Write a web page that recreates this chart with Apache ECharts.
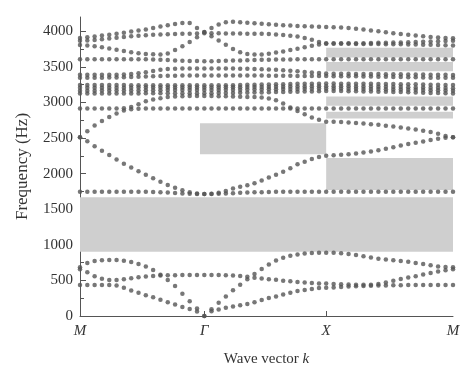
<!DOCTYPE html>
<html><head><meta charset="utf-8">
<script src="https://cdn.jsdelivr.net/npm/echarts@6/dist/echarts.min.js"></script>
<style>html,body{margin:0;padding:0;background:#fff}#c{width:474px;height:382px}</style>
</head><body><div id="c"></div>
<script>
// k-path: M -> Gamma -> X -> M
const kLabels = ['M', 'Γ', 'X', 'M'];
const kPositions = [0, 1, 1.98, 3];
const stepsPerSegment = 17;
const yTickValues = [0, 500, 1000, 1500, 2000, 2500, 3000, 3500, 4000];
const yMinorTickValues = [250, 750, 1250, 1750, 2250, 2750, 3250, 3750];

// Frequencies (Hz) of each band, 18 values M-Γ, 17 Γ-X, 17 X-M
const bandT1 = [3905, 3915, 3925, 3940, 3952, 3965, 3980, 3995, 4010, 4025, 4045, 4065, 4085, 4100, 4115, 4115, 4045, 3990,
  4045, 4095, 4125, 4132, 4128, 4120, 4112, 4104, 4097, 4090, 4085, 4080, 4075, 4070, 4067, 4064, 4060,
  4057, 4053, 4045, 4035, 4025, 4012, 4000, 3985, 3972, 3960, 3950, 3940, 3930, 3920, 3912, 3905, 3900];
const bandT2 = [3865, 3870, 3878, 3888, 3898, 3908, 3918, 3928, 3936, 3943, 3950, 3955, 3959, 3962, 3964, 3966, 3968, 3970,
  3970, 3970, 3969, 3968, 3967, 3966, 3965, 3963, 3960, 3955, 3948, 3938, 3925, 3905, 3880, 3850, 3830,
  3830, 3830, 3831, 3832, 3833, 3835, 3837, 3839, 3841, 3843, 3846, 3849, 3852, 3855, 3858, 3862, 3865];
const bandT3 = [3805, 3800, 3790, 3775, 3758, 3740, 3722, 3705, 3692, 3682, 3677, 3673, 3686, 3735, 3790, 3850, 3915, 3985,
  3930, 3870, 3810, 3750, 3705, 3680, 3672, 3675, 3685, 3700, 3715, 3735, 3755, 3775, 3795, 3812, 3825,
  3825, 3824, 3823, 3822, 3821, 3820, 3819, 3818, 3817, 3816, 3815, 3813, 3811, 3809, 3806, 3803, 3800];
const band3600 = [3605, 3605, 3605, 3605, 3605, 3605, 3605, 3605, 3605, 3605, 3604, 3600, 3595, 3590, 3586, 3583, 3581, 3580,
  3580, 3582, 3585, 3588, 3590, 3593, 3596, 3598, 3600, 3602, 3603, 3604, 3605, 3605, 3605, 3605, 3605,
  3605, 3605, 3605, 3605, 3605, 3605, 3605, 3605, 3605, 3605, 3605, 3605, 3605, 3605, 3605, 3605, 3605];
const bandC1 = [3390, 3390, 3390, 3390, 3390, 3390, 3392, 3398, 3410, 3425, 3442, 3458, 3468, 3474, 3477, 3478, 3478, 3478,
  3478, 3477, 3476, 3475, 3474, 3472, 3470, 3467, 3463, 3458, 3452, 3445, 3437, 3428, 3420, 3412, 3405,
  3404, 3403, 3402, 3401, 3400, 3399, 3398, 3397, 3396, 3395, 3394, 3393, 3392, 3390, 3389, 3388, 3387];
const bandC2 = [3345, 3345, 3346, 3347, 3349, 3351, 3354, 3357, 3360, 3364, 3368, 3371, 3374, 3376, 3378, 3379, 3380, 3380,
  3380, 3380, 3380, 3379, 3379, 3378, 3378, 3377, 3376, 3375, 3374, 3373, 3372, 3371, 3370, 3370, 3370,
  3369, 3368, 3367, 3366, 3365, 3364, 3362, 3360, 3358, 3356, 3354, 3352, 3350, 3348, 3347, 3346, 3345];
const bandC3 = [3245, 3245, 3245, 3245, 3245, 3244, 3244, 3243, 3243, 3242, 3242, 3241, 3241, 3240, 3240, 3240, 3240, 3240,
  3240, 3241, 3242, 3243, 3245, 3247, 3249, 3251, 3253, 3255, 3257, 3259, 3261, 3262, 3263, 3264, 3265,
  3265, 3264, 3264, 3263, 3262, 3261, 3260, 3259, 3258, 3257, 3256, 3254, 3252, 3250, 3248, 3246, 3245];
const bandC4 = [3205, 3205, 3205, 3205, 3206, 3206, 3207, 3207, 3208, 3208, 3209, 3209, 3210, 3210, 3210, 3210, 3210, 3210,
  3210, 3211, 3212, 3213, 3214, 3215, 3216, 3217, 3218, 3219, 3220, 3222, 3223, 3224, 3226, 3227, 3228,
  3228, 3227, 3226, 3225, 3224, 3222, 3221, 3219, 3217, 3215, 3213, 3211, 3209, 3207, 3205, 3203, 3200];
const bandC5 = [3165, 3165, 3165, 3166, 3166, 3167, 3167, 3168, 3169, 3170, 3171, 3172, 3173, 3174, 3174, 3175, 3175, 3175,
  3175, 3176, 3177, 3178, 3179, 3180, 3181, 3182, 3184, 3185, 3187, 3188, 3190, 3191, 3193, 3194, 3195,
  3195, 3194, 3193, 3192, 3190, 3189, 3187, 3185, 3183, 3181, 3179, 3177, 3175, 3172, 3170, 3167, 3165];
const bandC6 = [3125, 3125, 3125, 3125, 3126, 3126, 3126, 3127, 3127, 3128, 3128, 3129, 3129, 3130, 3130, 3130, 3130, 3130,
  3130, 3131, 3132, 3133, 3135, 3137, 3139, 3141, 3143, 3145, 3147, 3149, 3151, 3153, 3155, 3158, 3160,
  3160, 3159, 3158, 3157, 3155, 3153, 3151, 3149, 3147, 3145, 3142, 3140, 3137, 3134, 3131, 3128, 3125];
const bandB7 = [2915, 2915, 2915, 2915, 2915, 2915, 2918, 2935, 2975, 3015, 3040, 3060, 3075, 3083, 3088, 3090, 3090, 3090,
  3090, 3088, 3086, 3083, 3080, 3078, 3075, 3070, 3055, 3030, 2985, 2930, 2880, 2835, 2790, 2755, 2730,
  2728, 2724, 2718, 2711, 2703, 2695, 2685, 2673, 2662, 2648, 2635, 2620, 2603, 2585, 2560, 2530, 2512];
const bandB6 = [2510, 2595, 2675, 2740, 2795, 2845, 2885, 2905, 2912, 2915, 2915, 2915, 2915, 2915, 2915, 2915, 2915, 2915,
  2915, 2915, 2915, 2915, 2915, 2915, 2915, 2915, 2915, 2915, 2915, 2915, 2915, 2915, 2915, 2915, 2915,
  2915, 2915, 2915, 2915, 2915, 2915, 2915, 2915, 2915, 2915, 2915, 2915, 2915, 2915, 2915, 2915, 2915];
const bandB5 = [2510, 2455, 2385, 2320, 2260, 2200, 2140, 2085, 2035, 1985, 1935, 1885, 1840, 1800, 1765, 1738, 1722, 1715,
  1718, 1730, 1755, 1790, 1815, 1835, 1865, 1905, 1945, 1985, 2025, 2075, 2130, 2168, 2205, 2232, 2250,
  2258, 2265, 2272, 2282, 2295, 2310, 2330, 2350, 2372, 2395, 2415, 2432, 2450, 2472, 2490, 2505, 2510];
const bandB4 = [1745, 1745, 1745, 1745, 1745, 1745, 1745, 1745, 1745, 1745, 1743, 1740, 1735, 1728, 1722, 1718, 1715, 1713,
  1714, 1716, 1720, 1725, 1730, 1735, 1738, 1740, 1742, 1744, 1745, 1745, 1745, 1745, 1745, 1745, 1745,
  1745, 1745, 1745, 1745, 1745, 1745, 1745, 1745, 1745, 1745, 1745, 1745, 1745, 1745, 1745, 1745, 1745];
const bandB3 = [685, 745, 772, 783, 786, 786, 775, 760, 732, 695, 645, 580, 505, 420, 312, 208, 104, 0,
  95, 185, 275, 360, 440, 515, 590, 660, 725, 780, 818, 845, 865, 877, 885, 889, 890,
  889, 882, 870, 856, 840, 822, 805, 793, 783, 773, 763, 745, 732, 712, 695, 688, 685];
const bandB2 = [655, 615, 560, 522, 506, 505, 515, 530, 545, 556, 563, 568, 572, 574, 575, 576, 576, 576,
  576, 575, 573, 570, 562, 550, 538, 527, 515, 508, 496, 488, 478, 470, 462, 458, 455,
  449, 445, 443, 440, 438, 440, 450, 470, 495, 518, 540, 560, 582, 604, 625, 642, 655];
const bandB1 = [435, 435, 435, 435, 435, 428, 398, 358, 327, 292, 264, 230, 192, 162, 128, 98, 62, 0,
  65, 90, 115, 133, 150, 170, 193, 224, 252, 275, 302, 328, 350, 366, 380, 392, 398,
  402, 408, 414, 419, 423, 426, 428, 430, 432, 433, 434, 435, 436, 437, 437, 436, 435];

// Band gaps: [k from, k to, freq low, freq high]
const gapFull = [0, 3, 902, 1668];
const gapGammaX = [0.965, 1.98, 2272, 2709];
const gapXM1 = [1.98, 3, 1770, 2218];
const gapXM2 = [1.98, 3, 2775, 2868];
const gapXM3 = [1.98, 3, 2955, 3085];
const gapXM4 = [1.98, 3, 3439, 3569];
const gapXM5 = [1.98, 3, 3631, 3768];

const bands = [bandT1, bandT2, bandT3, band3600, bandC1, bandC2, bandC3, bandC4, bandC5, bandC6,
  bandB7, bandB6, bandB5, bandB4, bandB3, bandB2, bandB1];
const gaps = [gapFull, gapGammaX, gapXM1, gapXM2, gapXM3, gapXM4, gapXM5];

function kAt(n) {
  const seg = n < stepsPerSegment ? 0 : (n < 2 * stepsPerSegment ? 1 : 2);
  const j = n - seg * stepsPerSegment;
  return kPositions[seg] + (j / stepsPerSegment) * (kPositions[seg + 1] - kPositions[seg]);
}
bands.forEach((b, i) => { if (b.length !== 52) console.error('band ' + i + ' length ' + b.length); });
const dots = [];
bands.forEach(b => b.forEach((f, n) => dots.push([kAt(n), f])));

const serif = 'Liberation Serif';
const txt = '#333';
const axisCol = '#555';
const chart = echarts.init(document.getElementById('c'));
chart.setOption({
  animation: false,
  grid: { left: 80, right: 21, top: 17, bottom: 66 },
  xAxis: {
    type: 'value', min: 0, max: 3,
    axisLine: { show: true, lineStyle: { color: axisCol, width: 1 } },
    axisTick: { show: true, inside: true, length: 5, customValues: [kPositions[1], kPositions[2]], lineStyle: { color: axisCol } },
    axisLabel: {
      customValues: kPositions,
      formatter: (v) => { const i = kPositions.indexOf(v); return i >= 0 ? kLabels[i] : ''; },
      fontFamily: serif, fontStyle: 'italic', fontSize: 15, color: txt, margin: 8
    },
    splitLine: { show: false },
    name: 'Wave vector {k|k}', nameLocation: 'middle', nameGap: 36,
    nameTextStyle: { fontFamily: serif, fontSize: 15, color: txt,
      rich: { k: { fontFamily: serif, fontStyle: 'italic', fontSize: 15, color: txt } } }
  },
  yAxis: [{
    type: 'value', min: 0, max: 4200, interval: 500, position: 'left',
    axisLine: { show: true, lineStyle: { color: axisCol, width: 1 } },
    axisTick: { show: true, inside: true, length: 6, customValues: yTickValues, lineStyle: { color: axisCol } },
    axisLabel: { customValues: yTickValues, formatter: (v) => String(v), fontFamily: serif, fontSize: 15, color: txt, margin: 7 },
    splitLine: { show: false },
    name: 'Frequency (Hz)', nameLocation: 'middle', nameGap: 49,
    nameTextStyle: { fontFamily: serif, fontSize: 17, color: txt }
  }, {
    type: 'value', min: 0, max: 4200, interval: 250, position: 'left', offset: 0,
    axisLine: { show: false },
    axisTick: { show: true, inside: true, length: 4, customValues: yMinorTickValues, lineStyle: { color: axisCol } },
    axisLabel: { show: false },
    splitLine: { show: false }
  }],
  series: [{
    type: 'scatter',
    yAxisIndex: 0,
    data: dots,
    symbol: 'circle',
    symbolSize: 4.5,
    itemStyle: { color: '#555555' },
    silent: true,
    z: 3,
    markArea: {
      silent: true,
      itemStyle: { color: '#cfcfcf' },
      data: gaps.map(g => [{ coord: [g[0], g[2]] }, { coord: [g[1], g[3]] }])
    }
  }]
});
</script></body></html>
